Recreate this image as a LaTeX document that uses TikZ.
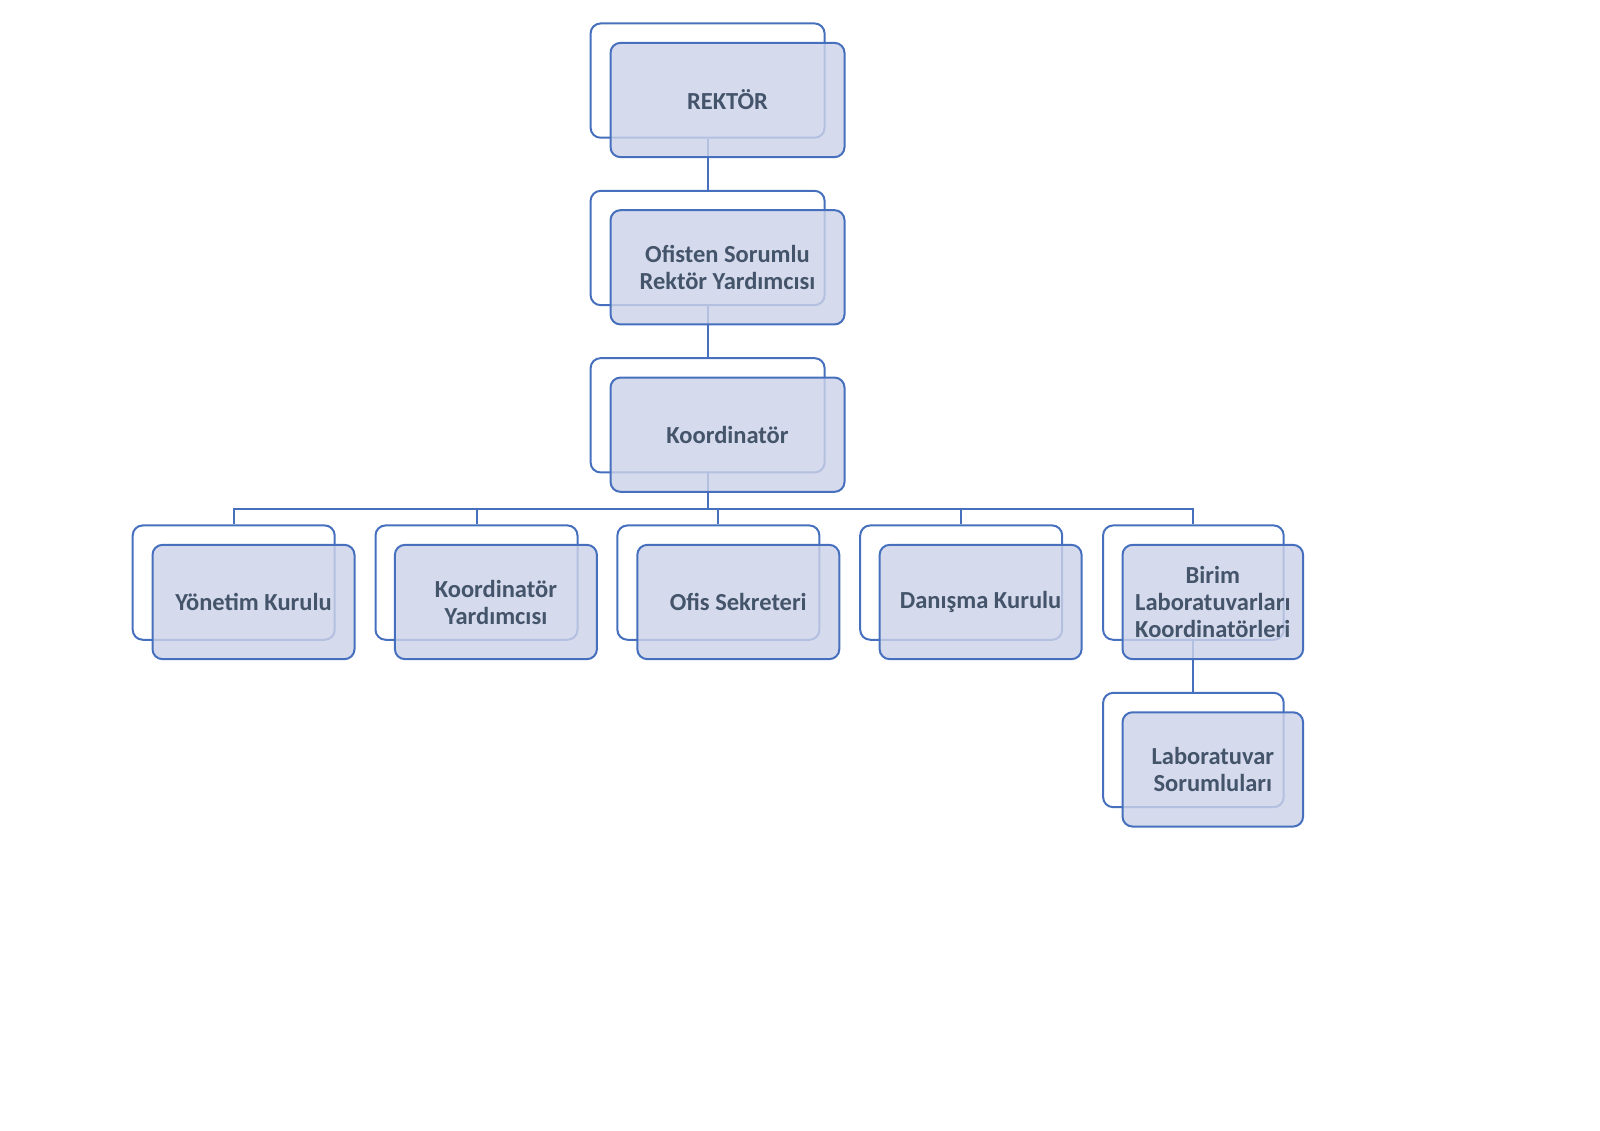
\documentclass[tikz,border=0pt]{standalone}
\usepackage{fontspec}
\setmainfont{Carlito}
\usepackage{tikz}
\usetikzlibrary{positioning}
\definecolor{kenar}{RGB}{70,112,190}
\definecolor{dolgu}{RGB}{204,210,232}
\definecolor{yazi}{RGB}{68,84,106}

\begin{document}
\begin{tikzpicture}[x=1pt,y=-1pt,
  arka/.style={draw=kenar, line width=2pt, rounded corners=10pt, inner sep=0pt, minimum width=#1, minimum height=114.3pt},
  arka/.default=234pt,
  on/.style={draw=kenar, line width=2pt, rounded corners=10pt, fill=dolgu, fill opacity=0.82, text opacity=1, text=yazi, inner sep=0pt, minimum width=#1, minimum height=114.3pt, align=center, font=\bfseries\fontsize{24.5}{27}\selectfont},
  on/.default=234pt,
  hat/.style={draw=kenar, line width=2pt}]
\useasboundingbox (0,0) rectangle (1600,1131);
% arka kutular
\node [arka] (rektorA) at (707.6,80.6) {};
\node [arka] (ofisRYA) at (707.6,248) {};
\node [arka] (koordA) at (707.6,415.3) {};
\node [arka=202pt] (yonetimA) at (233.7,582.6) {};
\node [arka=202pt] (koordyA) at (476.5,582.6) {};
\node [arka=202pt] (sekreterA) at (718.4,582.6) {};
\node [arka=202pt] (danismaA) at (961.2,582.6) {};
\node [arka=180.6pt] (birimA) at (1193.4,582.6) {};
\node [arka=180.6pt] (labA) at (1193.4,750) {};
% baglantilar
\coordinate (bus) at (707.6,508.5);
\draw [hat] (rektorA.south) -- (ofisRYA.north);
\draw [hat] (ofisRYA.south) -- (koordA.north);
\draw [hat] (koordA.south) -- (bus);
\draw [hat] (bus) -| (yonetimA.north);
\draw [hat] (bus) -| (koordyA.north);
\draw [hat] (bus) -| (sekreterA.north);
\draw [hat] (bus) -| (danismaA.north);
\draw [hat] (bus) -| (birimA.north);
\draw [hat] (birimA.south) -- (labA.north);
% on kutular
\node [on] (rektor) at (727.5,100) {REKTÖR};
\node [on] (ofisRY) at (727.5,267.3) {Ofisten Sorumlu\\Rektör Yardımcısı};
\node [on] (koord) at (727.5,434.7) {Koordinatör};
\node [on=202pt] (yonetim) at (253.5,602) {Yönetim Kurulu};
\node [on=202pt] (koordy) at (495.9,602) {Koordinatör\\Yardımcısı};
\node [on=202pt] (sekreter) at (738.3,602) {Ofis Sekreteri};
\node [on=202pt] (danisma) at (980.6,602) {Danışma Kurulu};
\node [on=180.6pt] (birim) at (1212.8,602) {Birim\\Laboratuvarları\\Koordinatörleri};
\node [on=180.6pt] (lab) at (1212.8,769.4) {Laboratuvar\\Sorumluları};
\end{tikzpicture}
\end{document}
